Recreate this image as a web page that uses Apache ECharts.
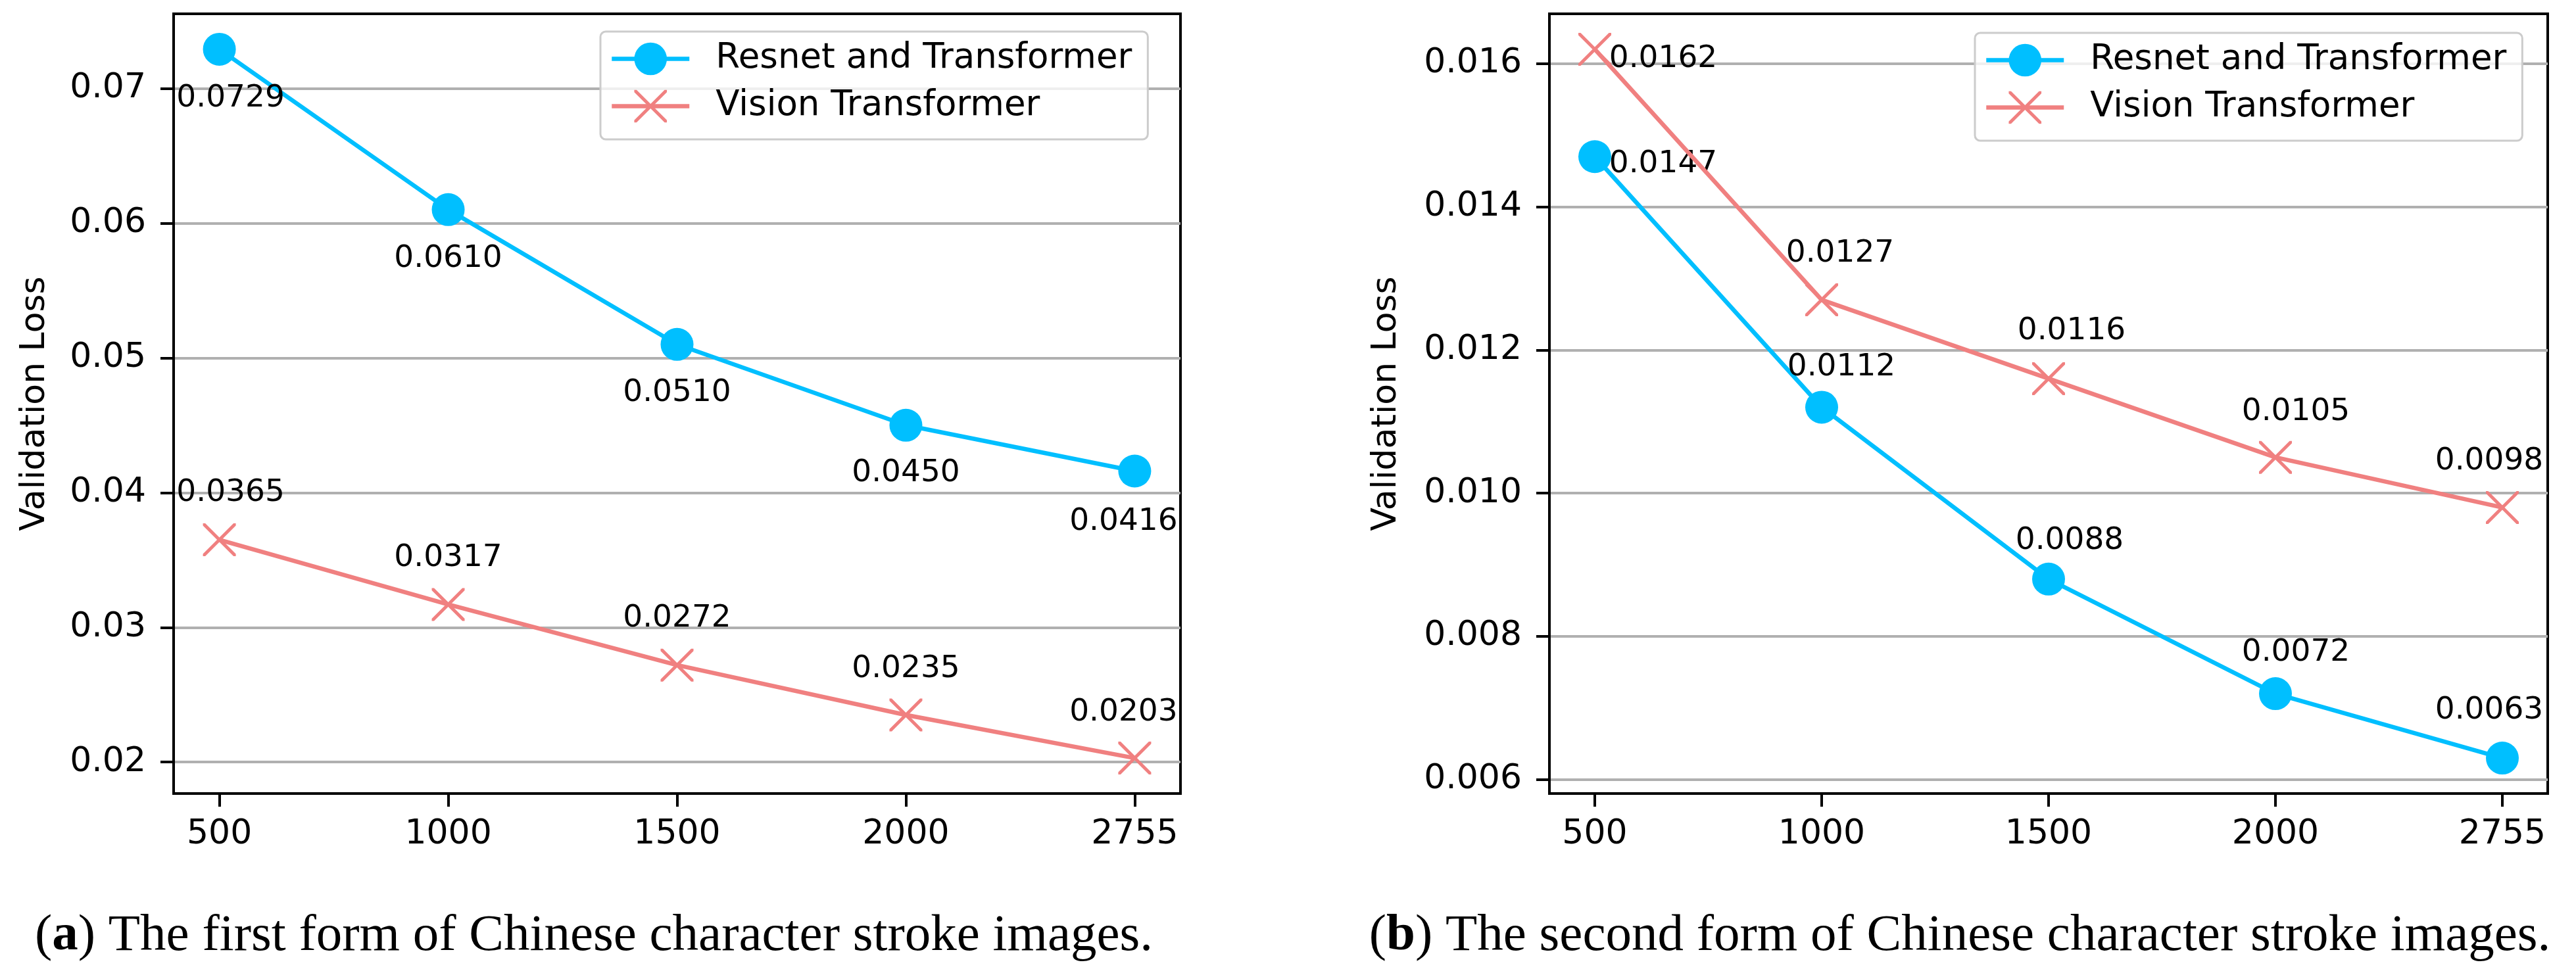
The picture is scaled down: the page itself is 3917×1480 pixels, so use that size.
<!DOCTYPE html>
<html>
<head>
<meta charset="utf-8">
<script src="https://cdn.jsdelivr.net/npm/echarts@6/dist/echarts.min.js"></script>
<style>
html,body{margin:0;padding:0;background:#fff;}
#chart{width:3917px;height:1480px;}
</style>
</head>
<body>
<div id="chart"></div>
<script>
// ---------- data ----------
const categories = ['500', '1000', '1500', '2000', '2755'];
const seriesNames = ['Resnet and Transformer', 'Vision Transformer'];
const resnetA = [0.0729, 0.0610, 0.0510, 0.0450, 0.0416];
const vitA = [0.0365, 0.0317, 0.0272, 0.0235, 0.0203];
const resnetB = [0.0147, 0.0112, 0.0088, 0.0072, 0.0063];
const vitB = [0.0162, 0.0127, 0.0116, 0.0105, 0.0098];
const yTicksA = [0.02, 0.03, 0.04, 0.05, 0.06, 0.07];
const yTicksB = [0.006, 0.008, 0.010, 0.012, 0.014, 0.016];
const yLabel = 'Validation Loss';
const captionA = ['a', ' The first form of Chinese character stroke images.'];
const captionB = ['b', ' The second form of Chinese character stroke images.'];

// ---------- styles ----------
const BLUE = '#00BFFF';
const RED = '#F08080';
const FONT = 'DejaVu Sans';
const X_SYMBOL = 'path://M0,0L7,0L50,43L93,0L100,0L100,7L57,50L100,93L100,100L93,100L50,57L7,100L0,100L0,93L43,50L0,7Z';

// label offsets (centre of text relative to the marker), per chart/series
const offA_res = [[17, 75], [0, 75], [0, 74], [0, 73], [-17, 77]];
const offA_vit = [[17, -71], [0, -71], [0, -71], [0, -70], [-17, -69]];
const offB_res = [[104, 12], [30, -61], [32, -58], [31, -62], [-20, -72]];
const offB_vit = [[104, 15], [28, -70], [35, -72], [31, -69], [-20, -70]];

function extentOf(arrs) {
  const all = [].concat(...arrs);
  const lo = Math.min(...all), hi = Math.max(...all);
  const m = (hi - lo) * 0.05;
  return [lo - m, hi + m];
}

function buildData(vals, offs) {
  return vals.map((v, i) => ({
    value: [i, v],
    label: { offset: offs[i] }
  }));
}

function lineSeries(name, idx, vals, offs, isX) {
  return {
    type: 'line',
    name: name,
    xAxisIndex: idx,
    yAxisIndex: idx,
    data: buildData(vals, offs),
    symbol: isX ? X_SYMBOL : 'circle',
    symbolSize: 50,
    showAllSymbol: true,
    animation: false,
    lineStyle: { color: isX ? RED : BLUE, width: 6.5 },
    itemStyle: { color: isX ? RED : BLUE },
    label: {
      show: true,
      position: 'inside',
      align: 'center',
      verticalAlign: 'middle',
      color: '#000',
      fontFamily: FONT,
      fontSize: 47,
      textBorderWidth: 0,
      formatter: p => p.value[1].toFixed(4)
    },
    emphasis: { disabled: true },
    z: isX ? 3 : 2
  };
}

function xAxisCfg(idx) {
  return {
    type: 'value',
    gridIndex: idx,
    min: -0.2,
    max: 4.2,
    axisLine: { show: true, onZero: false, lineStyle: { color: '#000', width: 4 } },
    axisTick: { show: true, length: 20, customValues: [0, 1, 2, 3, 4], lineStyle: { color: '#000', width: 4 } },
    axisLabel: {
      customValues: [0, 1, 2, 3, 4],
      formatter: v => categories[Math.round(v)],
      fontFamily: FONT, fontSize: 52, color: '#000', margin: 36
    },
    splitLine: { show: false }
  };
}

function yAxisCfg(idx, ext, ticks, dec, gap) {
  return {
    type: 'value',
    gridIndex: idx,
    min: ext[0],
    max: ext[1],
    axisLine: { show: true, onZero: false, lineStyle: { color: '#000', width: 4 } },
    axisTick: { show: true, length: 20, customValues: ticks, lineStyle: { color: '#000', width: 4 } },
    axisLabel: {
      customValues: ticks,
      formatter: v => v.toFixed(dec),
      fontFamily: FONT, fontSize: 52, color: '#000', margin: 42
    },
    splitLine: { show: true, lineStyle: { color: '#b0b0b0', width: 4 } },
    name: yLabel,
    nameLocation: 'middle',
    nameGap: gap,
    nameTextStyle: { fontFamily: FONT, fontSize: 52, color: '#000' }
  };
}

function legendCfg(left, top) {
  return {
    left: left, top: top,
    orient: 'vertical',
    data: seriesNames,
    itemWidth: 118,
    itemHeight: 62,
    itemGap: 19,
    padding: [15, 24, 24, 14],
    backgroundColor: 'rgba(255,255,255,0.8)',
    borderColor: '#cccccc',
    borderWidth: 3,
    borderRadius: 8,
    selectedMode: false,
    lineStyle: { width: 6.5 },
    textStyle: { fontFamily: FONT, fontSize: 53, color: '#000', padding: [0, 0, 0, 35] }
  };
}

function caption(parts, cx) {
  return {
    type: 'text',
    x: cx, y: 1424,
    style: {
      text: '({b|' + parts[0] + '})' + parts[1],
      fontFamily: 'Liberation Serif',
      fontSize: 79,
      fill: '#000',
      align: 'center',
      verticalAlign: 'middle',
      rich: {
        b: { fontFamily: 'Liberation Serif', fontSize: 79, fontWeight: 'bold', fill: '#000' }
      }
    }
  };
}

const extA = extentOf([resnetA, vitA]);
const extB = extentOf([resnetB, vitB]);

const chart = echarts.init(document.getElementById('chart'), null, { renderer: 'canvas' });
chart.setOption({
  animation: false,
  backgroundColor: '#fff',
  grid: [
    { left: 264, top: 21, width: 1531, height: 1186, show: true, borderColor: '#000', borderWidth: 4, backgroundColor: 'transparent', containLabel: false },
    { left: 2356, top: 21, width: 1518, height: 1186, show: true, borderColor: '#000', borderWidth: 4, backgroundColor: 'transparent', containLabel: false }
  ],
  xAxis: [xAxisCfg(0), xAxisCfg(1)],
  yAxis: [yAxisCfg(0, extA, yTicksA, 2, 185), yAxisCfg(1, extB, yTicksB, 3, 222)],
  legend: [legendCfg(913, 48), legendCfg(3003, 50)],
  series: [
    lineSeries(seriesNames[0], 0, resnetA, offA_res, false),
    lineSeries(seriesNames[1], 0, vitA, offA_vit, true),
    lineSeries(seriesNames[0], 1, resnetB, offB_res, false),
    lineSeries(seriesNames[1], 1, vitB, offB_vit, true)
  ],
  graphic: [caption(captionA, 903), caption(captionB, 2980)]
});
</script>
</body>
</html>
